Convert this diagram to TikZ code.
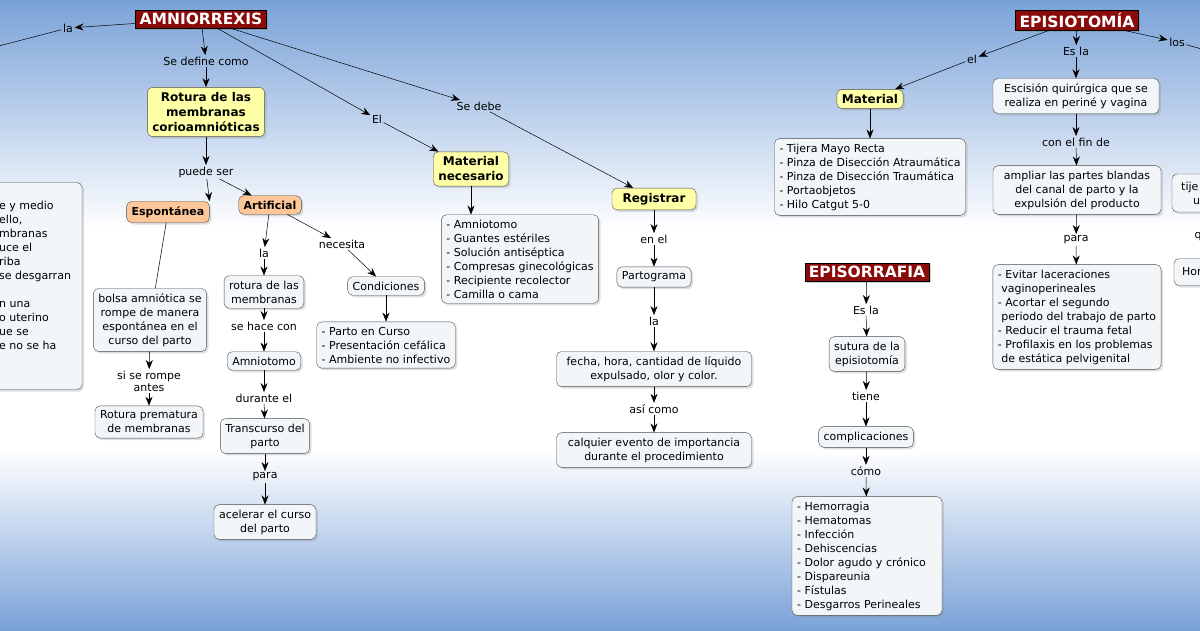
\documentclass[tikz,border=0pt]{standalone}
\usepackage{fontspec}
\setmainfont{DejaVu Sans}
\usetikzlibrary{arrows.meta,shadows}
\definecolor{ttl}{HTML}{8B0A0A}
\definecolor{yel}{HTML}{FFFFA8}
\definecolor{org}{HTML}{FDC79A}
\definecolor{bxf}{HTML}{F3F6F9}
\definecolor{bgb}{HTML}{7AA2D8}
\tikzset{
 every node/.style={font=\fontsize{11}{14}\selectfont},
 box/.style={draw=black!70,fill=bxf,rounded corners=5pt,inner sep=5pt,align=center,drop shadow={opacity=0.25,shadow xshift=2pt,shadow yshift=-2pt}},
 lst/.style={box,align=left},
 yb/.style={box,fill=yel,font=\fontsize{12}{15}\selectfont\bfseries},
 ob/.style={box,fill=org,font=\fontsize{11}{13}\selectfont\bfseries},
 ttlb/.style={draw=black,fill=ttl,text=white,font=\fontsize{15.5}{17}\selectfont\bfseries,inner xsep=4pt,inner ysep=3pt,drop shadow={opacity=0.4,shadow xshift=2pt,shadow yshift=-2pt}},
 lab/.style={inner sep=1.5pt},
 ar/.style={-{Stealth[length=9pt,width=7pt]},black,line width=0.5pt},
}
\newcommand{\lnk}[3]{\draw[ar] (#1) -- (#2); \draw[ar] (#2) -- (#3);}
\begin{document}
\begin{tikzpicture}[x=1pt,y=-1pt]
\useasboundingbox (0,0) rectangle (1200,630);
\shade[top color=bgb,bottom color=white] (0,0) rectangle (1200,230);
\fill[white] (0,229) rectangle (1200,451);
\shade[top color=white,bottom color=bgb] (0,450) rectangle (1200,630);
\begin{scope}
\clip (0,0) rectangle (1200,630);
\node[box,minimum width=102pt,minimum height=207pt] (lb) at (31,286) {};
\node[anchor=north west,align=left,inner sep=0pt] (lbt) at (-1,201) {e y medio\\ello,\\mbranas\\uce el\\riba\\se desgarran\\ \\n una\\o uterino\\ue se\\e no se ha};
\node[box,minimum width=50pt,minimum height=38pt] (r1) at (1197,193) {};
\node[anchor=west,align=left,inner sep=0pt] (r1t) at (1181,193) {tije\\\hspace*{12pt}u};
\node[lab] (lq) at (1198,237) {q};
\node[box,minimum width=50pt,minimum height=27pt] (r2) at (1199,272) {};
\node[anchor=west,inner sep=0pt] (r2t) at (1182,272) {Hor};
\node[lab] (los) at (1177,42) {los};
\coordinate (rr) at (1205,50);
\coordinate (ll) at (-5,47);
\end{scope}

\node[ttlb] (am) at (201,19) {AMNIORREXIS};
\node[lab] (la0) at (68,28) {la};
\draw[ar] (am) -- (la0); \draw[black,line width=0.5pt] (la0) -- (ll);
\node[yb] (rot) at (206,112) {Rotura de las\\membranas\\corioamnióticas};
\node[lab] (def) at (206,61) {Se define como};
\lnk{am}{def}{rot}
\node[yb] (mat) at (471,169) {Material\\necesario};
\node[lab] (el) at (377,119) {El};
\lnk{am}{el}{mat}
\node[yb,minimum width=84pt] (reg) at (654,199) {Registrar};
\node[lab] (sed) at (479,106) {Se debe};
\lnk{am}{sed}{reg}
\node[lab] (ps) at (206,172) {puede ser};
\node[ob] (esp) at (168,212) {Espontánea};
\node[ob] (art) at (270,205) {Artificial};
\draw[ar] (rot) -- (ps); \draw[ar] (ps) -- (esp.north east); \draw[ar] (ps) -- (art);
\node[box] (bol) at (150,320) {bolsa amniótica se\\rompe de manera\\espontánea en el\\curso del parto};
\draw[black,line width=0.5pt] (esp) -- (bol);
\node[lab,align=center,font=\fontsize{11}{12}\selectfont] (ssr) at (149,381) {si se rompe\\antes};
\node[box] (rpm) at (149,422) {Rotura prematura\\de membranas};
\lnk{bol}{ssr}{rpm}
\node[lab] (la1) at (264,253) {la};
\node[box] (rdm) at (264,292) {rotura de las\\membranas};
\lnk{art}{la1}{rdm}
\node[lab] (shc) at (264,326) {se hace con};
\node[box] (amn) at (264,361) {Amniotomo};
\lnk{rdm}{shc}{amn}
\node[lab] (dur) at (264,398) {durante el};
\node[box] (tra) at (265,436) {Transcurso del\\parto};
\lnk{amn}{dur}{tra}
\node[lab] (par) at (265,477) {para};
\node[box] (ace) at (265,522) {acelerar el curso\\del parto};
\lnk{tra}{par}{ace}
\node[lab] (nec) at (342,244) {necesita};
\node[box] (con) at (386,286) {Condiciones};
\lnk{art}{nec}{con}
\node[lst] (cl) at (386,345) {- Parto en Curso\\- Presentación cefálica\\- Ambiente no infectivo};
\draw[ar] (con) -- (cl);
\node[lst] (ml) at (520,259) {- Amniotomo\\- Guantes estériles\\- Solución antiséptica\\- Compresas ginecológicas\\- Recipiente recolector\\- Camilla o cama};
\draw[ar] (mat) -- (ml.north -| mat);
\node[lab] (ene) at (654,239) {en el};
\node[box] (pg) at (654,277) {Partograma};
\lnk{reg}{ene}{pg}
\node[lab] (la2) at (654,321) {la};
\node[box,minimum width=195pt] (fec) at (654,369) {fecha, hora, cantidad de líquido\\expulsado, olor y color.};
\lnk{pg}{la2}{fec}
\node[lab] (asi) at (654,409) {así como};
\node[box,minimum width=195pt] (cal) at (654,450) {calquier evento de importancia\\durante el procedimiento};
\lnk{fec}{asi}{cal}

\node[ttlb] (epi) at (1077,20) {EPISIOTOMÍA};
\draw[ar] (epi) -- (los); \draw[black,line width=0.5pt] (los) -- (rr);
\node[lab] (el2) at (972,59) {el};
\node[yb] (mat2) at (870,99) {Material};
\lnk{epi}{el2}{mat2}
\node[lst] (tl) at (870,177) {- Tijera Mayo Recta\\- Pinza de Disección Atraumática\\- Pinza de Disección Traumática\\- Portaobjetos\\- Hilo Catgut 5-0};
\draw[ar] (mat2) -- (tl);
\node[lab] (esl) at (1076,51) {Es la};
\node[box,minimum width=166pt] (esc) at (1076,96) {Escisión quirúrgica que se\\realiza en periné y vagina};
\lnk{epi}{esl}{esc}
\node[lab] (cef) at (1076,142) {con el fin de};
\node[box,minimum width=168pt] (amp) at (1077,190) {ampliar las partes blandas\\del canal de parto y la\\expulsión del producto};
\lnk{esc}{cef}{amp}
\node[lab] (par2) at (1076,240) {para};
\node[lst] (evl) at (1077,317) {- Evitar laceraciones\\\ vaginoperineales\\- Acortar el segundo\\\ periodo del trabajo de parto\\- Reducir el trauma fetal\\- Profilaxis en los problemas\\\ de estática pelvigenital};
\lnk{amp}{par2}{evl}

\node[ttlb] (eps) at (867,272) {EPISORRAFIA};
\node[lab] (esl2) at (866,310) {Es la};
\node[box] (sut) at (867,354) {sutura de la\\episiotomía};
\lnk{eps}{esl2}{sut}
\node[lab] (tie) at (866,396) {tiene};
\node[box] (com) at (866,437) {complicaciones};
\lnk{sut}{tie}{com}
\node[lab] (como) at (866,471) {cómo};
\node[lst,text width=140pt] (hl) at (867,556) {- Hemorragia\\- Hematomas\\- Infección\\- Dehiscencias\\- Dolor agudo y crónico\\- Dispareunia\\- Fístulas\\- Desgarros Perineales};
\lnk{com}{como}{hl}
\end{tikzpicture}
\end{document}
